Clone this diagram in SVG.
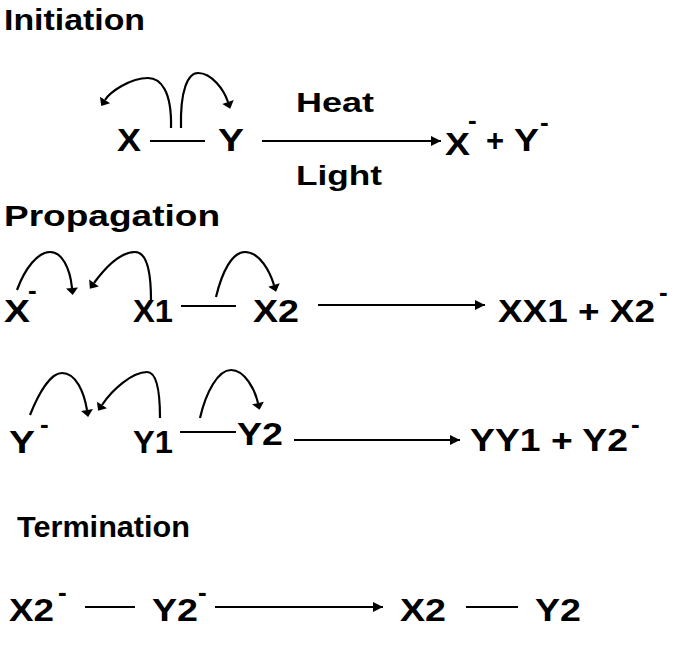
<svg xmlns="http://www.w3.org/2000/svg" width="685" height="646" viewBox="0 0 685 646">
<style>
text{font-family:"Liberation Sans",Arial,sans-serif;font-weight:bold;fill:#000}
.t{font-size:29px}.n{font-size:31px}.s{font-size:28px}.m{font-size:26px}
.c{fill:none;stroke:#000;stroke-width:2.2}
.a{fill:none;stroke:#000;stroke-width:2}
</style>
<defs>
<marker id="ah" markerWidth="12" markerHeight="10" refX="10" refY="5" orient="auto" markerUnits="userSpaceOnUse"><path d="M0,0 L10,5 L0,10 Z"/></marker>
<marker id="hk" markerWidth="12" markerHeight="14" refX="2" refY="7" orient="auto" markerUnits="userSpaceOnUse"><path d="M2,1 L2,13 L9,7 Z"/></marker>
</defs>
<rect width="685" height="646" fill="#fff"/>
<g id="titles">
<text class="t" x="4" y="30" textLength="141" lengthAdjust="spacingAndGlyphs">Initiation</text>
<text class="t" x="4" y="226" textLength="216" lengthAdjust="spacingAndGlyphs">Propagation</text>
<text class="t" x="17" y="537" textLength="173" lengthAdjust="spacingAndGlyphs">Termination</text>
</g>
<g id="initiation">
<text class="n" x="117" y="151" textLength="24" lengthAdjust="spacingAndGlyphs">X</text>
<text class="n" x="218" y="151" textLength="26" lengthAdjust="spacingAndGlyphs">Y</text>
<text class="s" x="296" y="112" textLength="78" lengthAdjust="spacingAndGlyphs">Heat</text>
<text class="s" x="296" y="185" textLength="86" lengthAdjust="spacingAndGlyphs">Light</text>
<text class="n" x="445" y="155" textLength="25" lengthAdjust="spacingAndGlyphs">X</text><text class="m" x="468" y="129">-</text>
<text class="n" x="486" y="151">+</text>
<text class="n" x="514" y="151" textLength="25" lengthAdjust="spacingAndGlyphs">Y</text><text class="m" x="540" y="131">-</text>
</g>
<g id="prop1">
<text class="n" x="4" y="322" textLength="26" lengthAdjust="spacingAndGlyphs">X</text><text class="m" x="28" y="299">-</text>
<text class="n" x="133" y="322" textLength="40" lengthAdjust="spacingAndGlyphs">X1</text>
<text class="n" x="253" y="322" textLength="46" lengthAdjust="spacingAndGlyphs">X2</text>
<text class="n" x="498" y="322" textLength="157" lengthAdjust="spacingAndGlyphs">XX1 + X2</text><text class="m" x="659" y="301">-</text>
</g>
<g id="prop2">
<text class="n" x="9" y="453" textLength="26" lengthAdjust="spacingAndGlyphs">Y</text><text class="m" x="40" y="433">-</text>
<text class="n" x="133" y="453" textLength="40" lengthAdjust="spacingAndGlyphs">Y1</text>
<text class="n" x="237" y="445" textLength="46" lengthAdjust="spacingAndGlyphs">Y2</text>
<text class="n" x="470" y="451" textLength="158" lengthAdjust="spacingAndGlyphs">YY1 + Y2</text><text class="m" x="631" y="433">-</text>
</g>
<g id="termination">
<text class="n" x="9" y="621" textLength="45" lengthAdjust="spacingAndGlyphs">X2</text><text class="m" x="58" y="601">-</text>
<text class="n" x="152" y="621" textLength="46" lengthAdjust="spacingAndGlyphs">Y2</text><text class="m" x="198" y="601">-</text>
<text class="n" x="400" y="621" textLength="46" lengthAdjust="spacingAndGlyphs">X2</text>
<text class="n" x="535" y="621" textLength="46" lengthAdjust="spacingAndGlyphs">Y2</text>
</g>
<g id="connectors">
<line class="a" x1="150" y1="141" x2="205" y2="141"/>
<line class="a" x1="262" y1="141" x2="441" y2="141" marker-end="url(#ah)"/>
<path class="c" d="M171,128 C172,90 160,78 148,78 C130,78 110,92 105,100" marker-end="url(#hk)"/>
<path class="c" d="M181,128 C180,90 188,73 198,73 C212,73 224,90 228,102" marker-end="url(#hk)"/>
<path class="c" d="M17,290 C25,268 38,252 50,252 C62,252 70,268 72,288" marker-end="url(#hk)"/>
<path class="c" d="M151,300 C151,270 146,252 135,252 C120,252 105,268 94,283" marker-end="url(#hk)"/>
<line class="a" x1="181" y1="306" x2="236" y2="306"/>
<path class="c" d="M216,297 C222,272 232,252 245,252 C260,252 270,272 274,285" marker-end="url(#hk)"/>
<line class="a" x1="318" y1="305" x2="485" y2="305" marker-end="url(#ah)"/>
<path class="c" d="M30,415 C38,395 50,373 62,373 C76,373 84,392 87,410" marker-end="url(#hk)"/>
<path class="c" d="M160,418 C160,390 156,372 147,372 C132,372 112,390 102,405" marker-end="url(#hk)"/>
<line class="a" x1="180" y1="432" x2="236" y2="432"/>
<path class="c" d="M200,418 C206,392 218,370 231,370 C245,370 255,390 258,403" marker-end="url(#hk)"/>
<line class="a" x1="294" y1="440" x2="460" y2="440" marker-end="url(#ah)"/>
<line class="a" x1="85" y1="607" x2="135" y2="607"/>
<line class="a" x1="215" y1="607" x2="383" y2="607" marker-end="url(#ah)"/>
<line class="a" x1="466" y1="607" x2="518" y2="607"/>
</g>
</svg>
